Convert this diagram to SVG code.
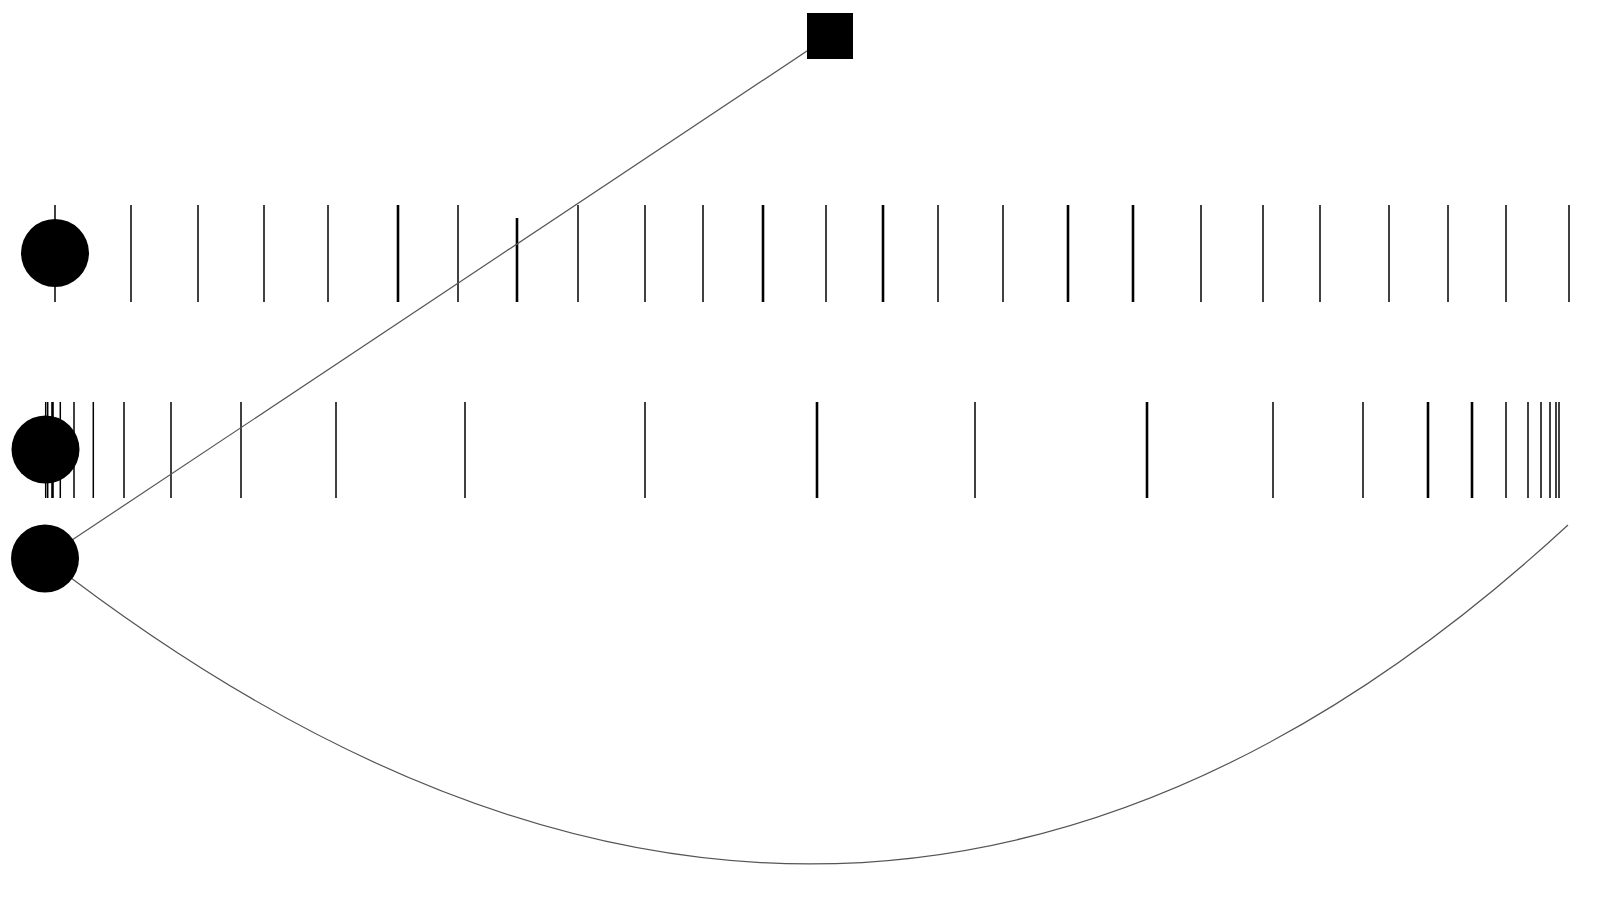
<svg xmlns="http://www.w3.org/2000/svg" width="1600" height="900" viewBox="0 0 1600 900">
<style>
.tick{stroke:#000;stroke-width:1.5}
.tk{stroke:#000;stroke-width:2.6}
.edge{fill:none;stroke:#555;stroke-width:1.2}
.node{fill:#000}
</style>
<rect width="1600" height="900" fill="#fff"/>
<g id="row1-ticks">
<line class="tick" x1="55" y1="205" x2="55" y2="302"/>
<line class="tick" x1="131" y1="205" x2="131" y2="302"/>
<line class="tick" x1="198" y1="205" x2="198" y2="302"/>
<line class="tick" x1="264" y1="205" x2="264" y2="302"/>
<line class="tick" x1="328" y1="205" x2="328" y2="302"/>
<line class="tk" x1="398" y1="205" x2="398" y2="302"/>
<line class="tick" x1="458" y1="205" x2="458" y2="302"/>
<line class="tk" x1="517" y1="218" x2="517" y2="302"/>
<line class="tick" x1="578" y1="205" x2="578" y2="302"/>
<line class="tick" x1="645" y1="205" x2="645" y2="302"/>
<line class="tick" x1="703" y1="205" x2="703" y2="302"/>
<line class="tk" x1="763" y1="205" x2="763" y2="302"/>
<line class="tick" x1="826" y1="205" x2="826" y2="302"/>
<line class="tk" x1="883" y1="205" x2="883" y2="302"/>
<line class="tick" x1="938" y1="205" x2="938" y2="302"/>
<line class="tick" x1="1003" y1="205" x2="1003" y2="302"/>
<line class="tk" x1="1068" y1="205" x2="1068" y2="302"/>
<line class="tk" x1="1133" y1="205" x2="1133" y2="302"/>
<line class="tick" x1="1201" y1="205" x2="1201" y2="302"/>
<line class="tick" x1="1263" y1="205" x2="1263" y2="302"/>
<line class="tick" x1="1320" y1="205" x2="1320" y2="302"/>
<line class="tick" x1="1389" y1="205" x2="1389" y2="302"/>
<line class="tick" x1="1448" y1="205" x2="1448" y2="302"/>
<line class="tick" x1="1506" y1="205" x2="1506" y2="302"/>
<line class="tick" x1="1569" y1="205" x2="1569" y2="302"/>
</g>
<g id="row2-ticks">
<line class="tick" x1="45.7" y1="402" x2="45.7" y2="498"/>
<line class="tick" x1="47.7" y1="402" x2="47.7" y2="498"/>
<line class="tk" x1="52.5" y1="402" x2="52.5" y2="498"/>
<line class="tick" x1="60.3" y1="402" x2="60.3" y2="498"/>
<line class="tick" x1="74" y1="402" x2="74" y2="498"/>
<line class="tick" x1="93.3" y1="402" x2="93.3" y2="498"/>
<line class="tick" x1="124" y1="402" x2="124" y2="498"/>
<line class="tick" x1="171" y1="402" x2="171" y2="498"/>
<line class="tick" x1="241" y1="402" x2="241" y2="498"/>
<line class="tick" x1="336" y1="402" x2="336" y2="498"/>
<line class="tick" x1="465" y1="402" x2="465" y2="498"/>
<line class="tick" x1="645" y1="402" x2="645" y2="498"/>
<line class="tk" x1="817" y1="402" x2="817" y2="498"/>
<line class="tick" x1="975" y1="402" x2="975" y2="498"/>
<line class="tk" x1="1147" y1="402" x2="1147" y2="498"/>
<line class="tick" x1="1273" y1="402" x2="1273" y2="498"/>
<line class="tick" x1="1363" y1="402" x2="1363" y2="498"/>
<line class="tk" x1="1428" y1="402" x2="1428" y2="498"/>
<line class="tk" x1="1472" y1="402" x2="1472" y2="498"/>
<line class="tick" x1="1506" y1="402" x2="1506" y2="498"/>
<line class="tick" x1="1528" y1="402" x2="1528" y2="498"/>
<line class="tick" x1="1541" y1="402" x2="1541" y2="498"/>
<line class="tick" x1="1550" y1="402" x2="1550" y2="498"/>
<line class="tick" x1="1556" y1="402" x2="1556" y2="498"/>
<line class="tick" x1="1559" y1="402" x2="1559" y2="498"/>
</g>
<g id="connectors">
<line class="edge" x1="45" y1="558" x2="829.5" y2="36"/>
<path class="edge" d="M45,558 Q852,1186 1568,525"/>
</g>
<g id="node-square"><rect class="node" x="807" y="13" width="46" height="46"/></g>
<g id="node-1"><circle class="node" cx="55" cy="253" r="34"/></g>
<g id="node-2"><circle class="node" cx="45.5" cy="449.5" r="34"/></g>
<g id="node-3"><circle class="node" cx="45" cy="558.5" r="34"/></g>
</svg>
